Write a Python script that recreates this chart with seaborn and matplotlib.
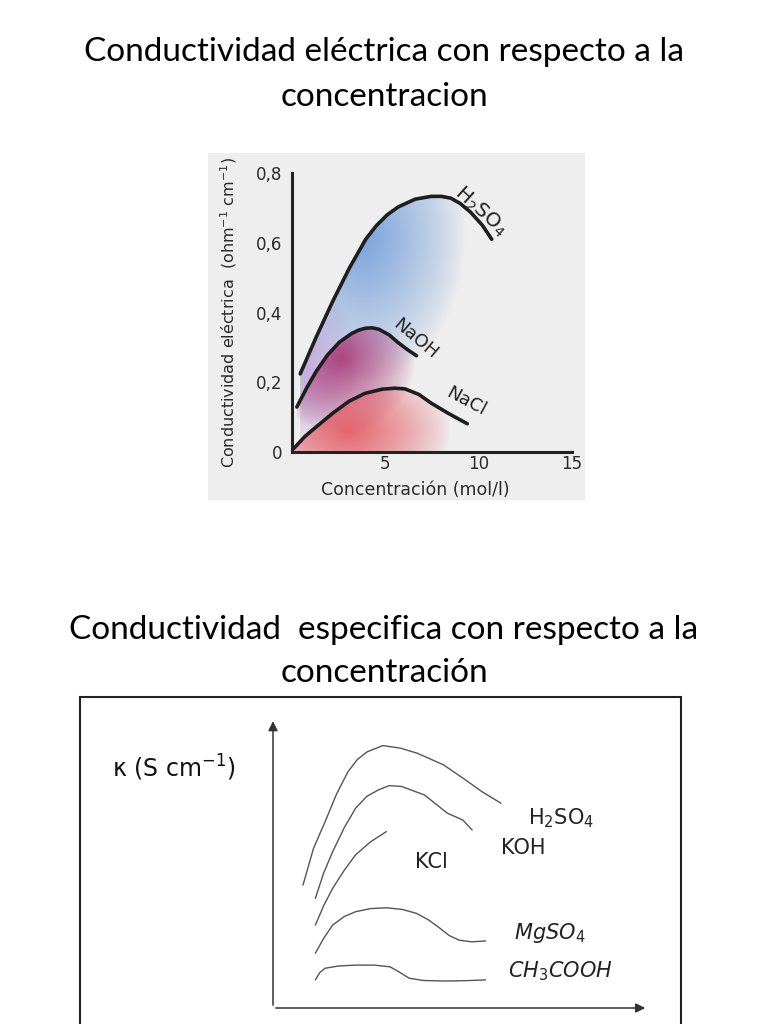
import numpy as np
import matplotlib
matplotlib.use("Agg")
import matplotlib.pyplot as plt
import seaborn as sns
from matplotlib.patches import Rectangle, Polygon

# --- top chart: conductividad electrica vs concentracion (mol/l) ---
h2so4_x = [0.44, 1.3, 2.19, 3.1, 3.95, 4.5, 5.1, 5.7, 6.6, 7.46, 8.0, 8.5, 9.0, 9.56, 10.2, 10.7]
h2so4_y = [0.224, 0.33, 0.433, 0.53, 0.610, 0.648, 0.680, 0.703, 0.725, 0.733, 0.733,
           0.728, 0.713, 0.688, 0.650, 0.61]
naoh_x = [0.26, 0.8, 1.32, 1.9, 2.54, 3.2, 3.6, 3.95, 4.3, 4.65, 5.2, 5.7, 6.2, 6.67]
naoh_y = [0.129, 0.185, 0.233, 0.278, 0.315, 0.340, 0.350, 0.355, 0.356, 0.352, 0.336,
          0.313, 0.293, 0.276]
nacl_x = [0.09, 0.7, 1.32, 2.2, 3.07, 3.9, 4.82, 5.5, 6.05, 6.8, 7.46, 8.4, 9.39]
nacl_y = [0.01, 0.045, 0.073, 0.112, 0.146, 0.168, 0.180, 0.183, 0.181, 0.165, 0.140, 0.11, 0.081]
top_yticks = [0, 0.2, 0.4, 0.6, 0.8]
top_yticklabels = ["0", "0,2", "0,4", "0,6", "0,8"]
top_xticks = [5, 10, 15]

# --- bottom chart: conductividad especifica (arbitrary units, 0-10 frame) ---
b_h2so4_x = [0.80, 1.08, 1.39, 1.70, 2.00, 2.25, 2.51, 2.93, 3.40, 3.85, 4.55, 5.07, 5.57, 6.08]
b_h2so4_y = [4.33, 5.62, 6.56, 7.55, 8.32, 8.75, 9.02, 9.24, 9.15, 8.97, 8.56, 8.09, 7.62, 7.21]
b_koh_x = [1.13, 1.35, 1.59, 1.90, 2.20, 2.50, 2.81, 3.10, 3.43, 4.04, 4.65, 5.06, 5.31]
b_koh_y = [3.86, 4.75, 5.50, 6.35, 7.03, 7.45, 7.68, 7.83, 7.80, 7.50, 6.86, 6.62, 6.27]
b_kcl_x = [1.13, 1.35, 1.59, 1.90, 2.20, 2.60, 3.02]
b_kcl_y = [2.92, 3.60, 4.21, 4.85, 5.39, 5.85, 6.21]
b_mgso4_x = [1.13, 1.35, 1.59, 1.90, 2.20, 2.60, 3.02, 3.45, 3.83, 4.15, 4.45, 4.70, 4.96, 5.30, 5.67]
b_mgso4_y = [1.93, 2.45, 2.92, 3.22, 3.39, 3.50, 3.53, 3.47, 3.33, 3.10, 2.81, 2.55, 2.39, 2.33, 2.36]
b_ch3cooh_x = [1.13, 1.25, 1.39, 1.75, 2.20, 2.70, 3.12, 3.35, 3.63, 4.00, 4.55, 5.10, 5.67]
b_ch3cooh_y = [0.99, 1.25, 1.40, 1.48, 1.51, 1.51, 1.45, 1.28, 1.05, 0.97, 0.95, 0.96, 0.99]

sns.set_style("white")
plt.rcParams['font.family'] = ['DejaVu Sans']

W, H = 768, 1024
fig = plt.figure(figsize=(7.68, 10.24), dpi=100)
fig.patch.set_facecolor("white")


def fx(px):
    return px / W


def fy(py):
    return 1 - py / H


title_font = dict(family=['Lato', 'DejaVu Sans'], fontsize=24, color='black',
                  ha='center', va='center')
fig.text(0.5, fy(52), "Conductividad eléctrica con respecto a la", **title_font)
fig.text(0.5, fy(97), "concentracion", **title_font)
fig.text(0.5, fy(630), "Conductividad  especifica con respecto a la", **title_font)
fig.text(0.5, fy(673), "concentración", **title_font)

# grey scanned-picture background
fig.patches.append(Rectangle((fx(208), fy(500)), fx(585 - 208), (500 - 153) / H,
                             transform=fig.transFigure, facecolor='#efeeee',
                             edgecolor='none', zorder=-10))

ax1 = fig.add_axes([fx(292), fy(452), fx(280), (452 - 173) / H])
ax1.set_facecolor('none')
XMAX, YMAX = 15.0, 0.8


def gradient_fill(ax, x, y, rgb, center, scale, strength):
    verts = [(x[0], 0)] + list(zip(x, y)) + [(x[-1], 0)]
    poly = Polygon(verts, closed=True, facecolor='none', edgecolor='none')
    ax.add_patch(poly)
    gx, gy = np.meshgrid(np.linspace(0, XMAX, 300), np.linspace(0, YMAX, 300))
    d = np.sqrt(((gx - center[0]) / scale[0]) ** 2 + ((gy - center[1]) / scale[1]) ** 2)
    alpha = np.clip(1 - d, 0, 1) ** 0.8 * strength
    img = np.zeros(gx.shape + (4,))
    img[..., 0], img[..., 1], img[..., 2] = [c / 255 for c in rgb]
    img[..., 3] = alpha
    im = ax.imshow(img, extent=[0, XMAX, 0, YMAX], origin='lower', aspect='auto', zorder=1)
    im.set_clip_path(poly)


gradient_fill(ax1, h2so4_x, h2so4_y, (110, 155, 218), (3.8, 0.62), (5.5, 0.42), 0.9)
gradient_fill(ax1, h2so4_x, h2so4_y, (175, 145, 212), (0.5, 0.25), (3.0, 0.25), 0.75)
gradient_fill(ax1, naoh_x, naoh_y, (170, 58, 120), (2.6, 0.27), (4.0, 0.22), 0.92)
gradient_fill(ax1, nacl_x, nacl_y, (228, 88, 98), (3.0, 0.06), (5.5, 0.2), 0.92)

for xs, ys in [(h2so4_x, h2so4_y), (naoh_x, naoh_y), (nacl_x, nacl_y)]:
    sns.lineplot(x=xs, y=ys, ax=ax1, color='#1e1e1e', linewidth=2.6, sort=False, zorder=3)

ax1.set_xlim(0, XMAX)
ax1.set_ylim(0, YMAX)
ax1.set_yticks(top_yticks)
ax1.set_yticklabels(top_yticklabels)
ax1.set_xticks(top_xticks)
ax1.tick_params(labelsize=12, colors='#2a2a2a', length=0)
ax1.tick_params(axis='x', pad=2)
ax1.tick_params(axis='y', pad=7)
for s in ['top', 'right']:
    ax1.spines[s].set_visible(False)
for s in ['left', 'bottom']:
    ax1.spines[s].set_color('#222222')
    ax1.spines[s].set_linewidth(2.2)
ax1.set_xlabel("Concentración (mol/l)", fontsize=12.5, color='#2a2a2a')
ax1.xaxis.set_label_coords(0.44, -0.105)
ax1.set_ylabel("Conductividad eléctrica  (ohm$^{-1}$ cm$^{-1}$)", fontsize=11.5,
               color='#2a2a2a')
ax1.yaxis.set_label_coords(-0.19, 0.5)

lab = dict(fontsize=13, color='#222222', ha='center', va='center', zorder=4)
ax1.text(10.1, 0.69, "H$_2$SO$_4$", rotation=-42, fontsize=14.5,
         color='#222222', ha='center', va='center', zorder=4)
ax1.text(6.6, 0.323, "NaOH", rotation=-40, **lab)
ax1.text(9.36, 0.144, "NaCl", rotation=-28, **lab)

# --- bottom framed sketch ---
fig.patches.append(Rectangle((fx(80), -0.01), fx(681 - 80), (1 - 697 / H) + 0.01,
                             transform=fig.transFigure, fill=False,
                             edgecolor='#222222', linewidth=1.5, zorder=1))

ax2 = fig.add_axes([fx(273), fy(1008), fx(648 - 273), (1008 - 724) / H])
ax2.set_xlim(0, 10)
ax2.set_ylim(0, 10)
ax2.axis('off')
arrow = dict(arrowstyle='-|>', color='#333333', lw=1.1, mutation_scale=14)
ax2.annotate('', xy=(0, 1.02), xytext=(0, 0), xycoords='axes fraction', arrowprops=arrow)
ax2.annotate('', xy=(1.0, 0), xytext=(0, 0), xycoords='axes fraction', arrowprops=arrow)

for xs, ys in [(b_h2so4_x, b_h2so4_y), (b_koh_x, b_koh_y), (b_kcl_x, b_kcl_y),
               (b_mgso4_x, b_mgso4_y), (b_ch3cooh_x, b_ch3cooh_y)]:
    sns.lineplot(x=xs, y=ys, ax=ax2, color='#555555', linewidth=1.0, sort=False)

blab = dict(fontsize=15, color='#222222', ha='left', va='center')
ax2.text(6.79, 6.69, "H$_2$SO$_4$", **blab)
ax2.text(6.08, 5.63, "KOH", **blab)
ax2.text(3.78, 5.15, "KCl", **blab)
ax2.text(6.44, 2.63, "MgSO$_4$", style='italic', **blab)
ax2.text(6.28, 1.28, "CH$_3$COOH", style='italic', **blab)

fig.text(fx(112), fy(768), "κ (S cm$^{-1}$)", fontsize=17, color='#111111',
         ha='left', va='center')

fig.savefig("out.png", dpi=100)
